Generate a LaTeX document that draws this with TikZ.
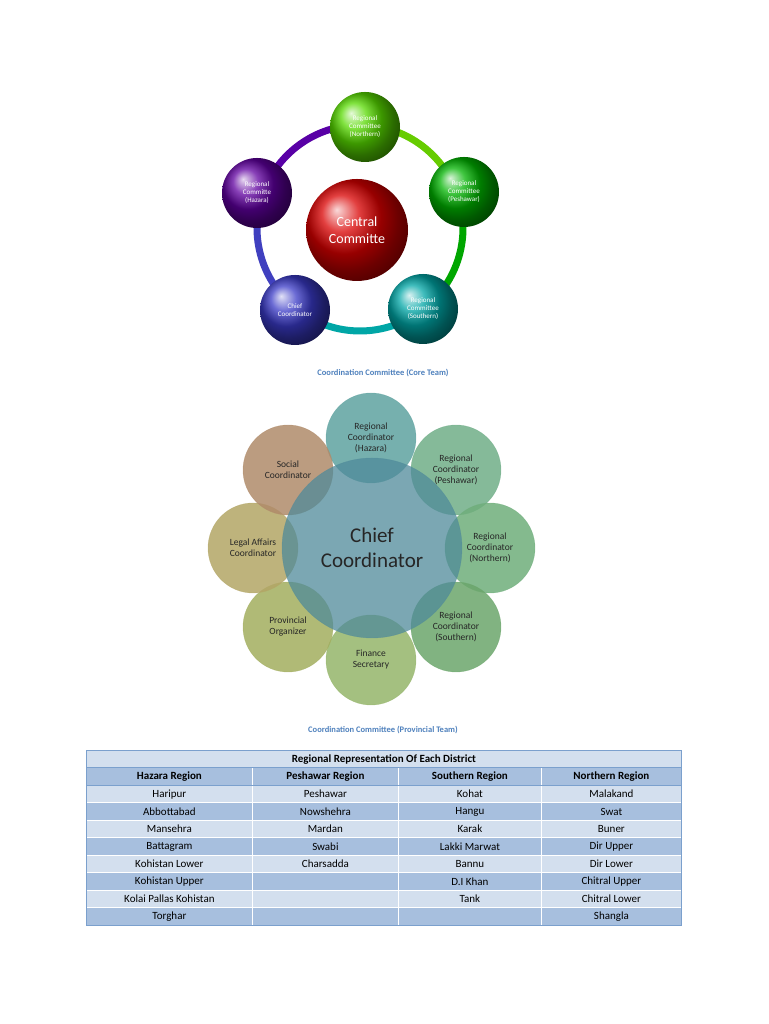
\documentclass[tikz,border=0pt]{standalone}
\usepackage{fontspec}
\setmainfont{Carlito}
\definecolor{pa}{HTML}{5FA3A0}
\definecolor{pb}{HTML}{70AE88}
\definecolor{pcc}{HTML}{6FAE7B}
\definecolor{pd}{HTML}{6BA66B}
\definecolor{pe}{HTML}{95B56A}
\definecolor{pf}{HTML}{A3AE5F}
\definecolor{pg}{HTML}{B3A666}
\definecolor{ph}{HTML}{B08B6A}
\definecolor{pcen}{HTML}{4F8A9A}
\definecolor{tl}{HTML}{D3DFEE}
\definecolor{td}{HTML}{A7BFDE}
\definecolor{tb}{HTML}{7BA0CD}
\definecolor{capc}{HTML}{4F81BD}
\begin{document}
\begin{tikzpicture}[x=1pt,y=1pt,
 rc/.style={circle,minimum size=70pt,inner sep=0pt,align=center,text=white,font=\fontsize{7}{8}\selectfont,shading=ball,ball color=#1},
 pc/.style={circle,minimum size=90pt,inner sep=0pt,align=center,text=black!85,font=\fontsize{9.5}{11}\selectfont,fill=#1,fill opacity=0.85,text opacity=1,draw=#1,draw opacity=0.6},
 captxt/.style={text=capc,font=\bfseries\fontsize{8.5}{10}\selectfont},
 cell/.style={minimum width=#1,minimum height=17.5pt,inner sep=0pt,draw=white,line width=0.8pt,font=\fontsize{11}{12}\selectfont},
 ring/.style={line width=7pt,draw=#1}]
\useasboundingbox (0,0) rectangle (768,1024);
\fill[white] (0,0) rectangle (768,1024);
% ring
\draw[ring=violet!70!blue] ([shift={(360,796)}]161:103) arc (161:87:103);
\draw[ring=green!50!yellow!80!black] ([shift={(360,796)}]87:103) arc (87:19:103);
\draw[ring=green!65!black] ([shift={(360,796)}]19:103) arc (19:-52:103);
\draw[ring=teal!70!cyan] ([shift={(360,796)}]-52:103) arc (-52:-128:103);
\draw[ring=blue!50!gray] ([shift={(360,796)}]-128:103) arc (-128:-199:103);
\node[rc=green!60!yellow!85!black] (n) at (365,897) {Regional\\Committee\\(Northern)};
\node[rc=green!70!black] (p) at (464,832) {Regional\\Committee\\(Peshawar)};
\node[rc=teal!70!cyan] (s) at (423,715) {Regional\\Committee\\(Southern)};
\node[rc=blue!55!gray] (c) at (295,714) {Chief\\Coordinator};
\node[rc=violet!75!blue] (h) at (257,831) {Regional\\Committe\\(Hazara)};
\node[rc=red!85!black,minimum size=102pt,font=\fontsize{14}{17}\selectfont] (cc) at (357,794) {Central\\Committe};
\node[captxt] (cap1) at (383,651) {Coordination Committee (Core Team)};
% provincial
\node[pc=pa] (a1) at (371,586) {Regional\\Coordinator\\(Hazara)};
\node[pc=pb] (a2) at (456,554) {Regional\\Coordinator\\(Peshawar)};
\node[pc=pcc] (a3) at (490,476) {Regional\\Coordinator\\(Northern)};
\node[pc=pd] (a4) at (456,397) {Regional\\Coordinator\\(Southern)};
\node[pc=pe] (a5) at (371,364) {Finance\\Secretary};
\node[pc=pf] (a6) at (288,397) {Provincial\\Organizer};
\node[pc=pg] (a7) at (253,476) {Legal Affairs\\Coordinator};
\node[pc=ph] (a8) at (288,554) {Social\\Coordinator};
\node[circle,minimum size=180pt,fill=pcen,fill opacity=0.75,text opacity=1,draw=pcen,draw opacity=0.5,align=center,font=\fontsize{21}{25}\selectfont,text=black!85] (cen) at (372,476) {Chief\\Coordinator};
\node[captxt] (cap2) at (383,294) {Coordination Committee (Provincial Team)};
% table
\node[cell=595pt,fill=tl,font=\bfseries\fontsize{11}{12}\selectfont,anchor=north west] (tt) at (86,274) {Regional Representation Of Each District};
\foreach \x/\w/\t [count=\i] in {86/166/Hazara Region,252/146/Peshawar Region,398/143/Southern Region,541/140/Northern Region}
  \node[cell=\w pt,fill=td,font=\bfseries\fontsize{11}{12}\selectfont,anchor=north west] (hd\i) at (\x,256.5) {\t};
\foreach \r/\a/\b/\c/\d [count=\k] in {1/Haripur/Peshawar/Kohat/Malakand,2/Abbottabad/Nowshehra/Hangu/Swat,3/Mansehra/Mardan/Karak/Buner,4/Battagram/Swabi/Lakki Marwat/Dir Upper,5/Kohistan Lower/Charsadda/Bannu/Dir Lower,6/Kohistan Upper/ /D.I Khan/Chitral Upper,7/Kolai Pallas Kohistan/ /Tank/Chitral Lower,8/Torghar/ / /Shangla}{
  \pgfmathsetmacro\yy{256.5-17.5*\r}
  \pgfmathtruncatemacro\od{mod(\r,2)}
  \ifnum\od=1 \def\fc{tl}\else\def\fc{td}\fi
  \node[cell=166pt,fill=\fc,anchor=north west] (r\k a) at (86,\yy) {\a};
  \node[cell=146pt,fill=\fc,anchor=north west] (r\k b) at (252,\yy) {\b};
  \node[cell=143pt,fill=\fc,anchor=north west] (r\k c) at (398,\yy) {\c};
  \node[cell=140pt,fill=\fc,anchor=north west] (r\k d) at (541,\yy) {\d};
}
\draw[tb,line width=0.8pt] (86,274) rectangle (681,99);
\draw[tb,line width=0.8pt] (86,256.5) -- (681,256.5) (86,239) -- (681,239);
\end{tikzpicture}
\end{document}
